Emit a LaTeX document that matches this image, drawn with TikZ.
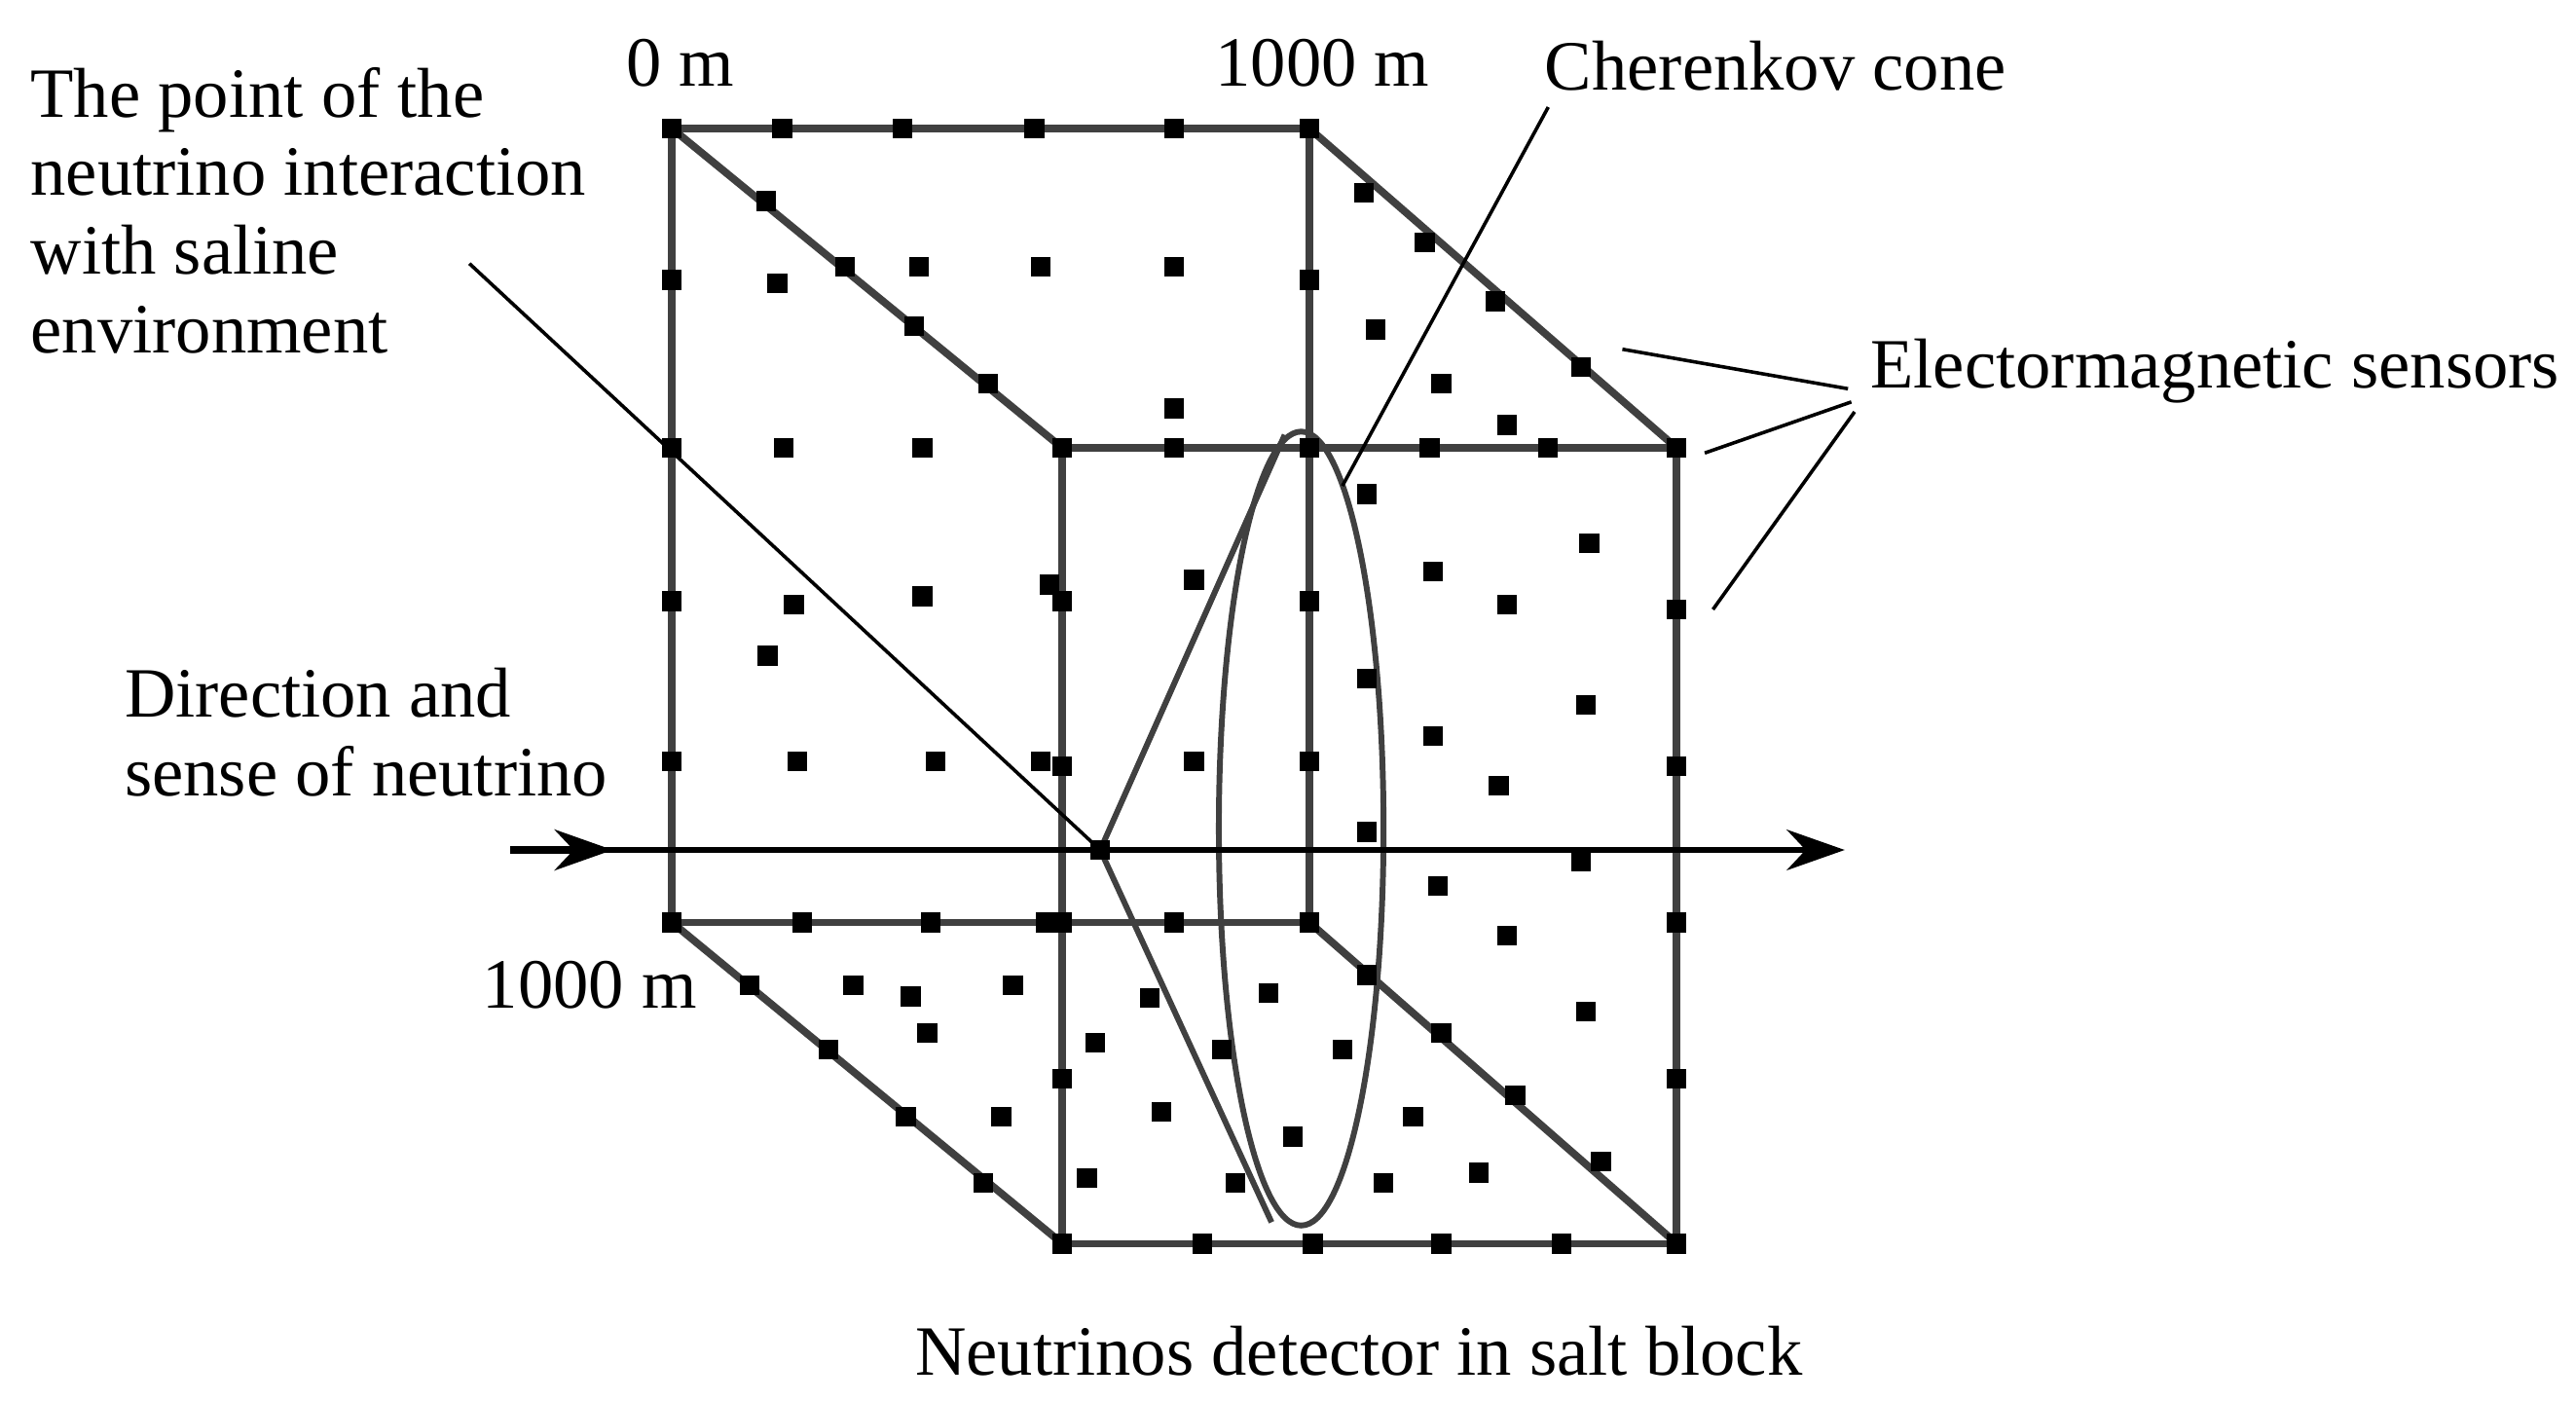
\documentclass[tikz,border=0pt]{standalone}
\usepackage{fontspec}
\setmainfont{Liberation Serif}
\usetikzlibrary{arrows.meta}
\begin{document}
\begin{tikzpicture}[x=0.01cm,y=-0.01cm,
  edge/.style={line width=1.3pt,color=black!75},
  thin/.style={line width=0.6pt},
  sq/.style={fill=black},
  lbl/.style={font=\fontsize{12.2}{13.6}\selectfont,inner sep=0pt}]
\useasboundingbox (0,0) rectangle (1564,850);
% cube corners
\coordinate (A) at (408,78); \coordinate (B) at (795,78);
\coordinate (C) at (408,560); \coordinate (D) at (795,560);
\coordinate (E) at (645,272); \coordinate (F) at (1018,272);
\coordinate (G) at (645,755); \coordinate (H) at (1018,755);
\draw[edge] (A)--(B)--(D)--(C)--cycle;
\draw[edge] (E)--(F)--(H)--(G)--cycle;
\draw[edge] (A)--(E) (B)--(F) (C)--(G) (D)--(H);
% ellipse and cone
\coordinate (P) at (668,516);
\draw[line width=1pt,color=black!75] (790,503) ellipse [x radius=50,y radius=241];
\coordinate (T) at (780,264); \coordinate (Bt) at (772,742);
\draw[line width=1pt,color=black!75] (T)--(P)--(Bt);
% neutrino direction
\coordinate (S) at (310,516); \coordinate (Ee) at (1120,516);
\draw[line width=1pt,-{Stealth[length=10pt,width=7pt]}] (S)--(Ee);
\draw[line width=1.4pt,-{Stealth[length=10pt,width=7pt]}] (S)--(372,516);
% sensors
\foreach \x/\y in {408/78,475/78,548/78,628/78,713/78,795/78,
 408/170,408/272,408/365,408/462,408/560,
 795/170,795/272,795/365,795/462,795/560,
 487/560,565/560,635/560,713/560,
 645/272,713/272,868/272,940/272,1018/272,
 645/365,645/465,645/560,645/655,645/755,
 1018/370,1018/465,1018/560,1018/655,1018/755,
 730/755,797/755,875/755,948/755,
 465/122,555/198,600/233,828/117,865/147,908/183,960/223,
 455/598,503/637,550/678,597/718,875/627,920/665,972/705,
 472/172,513/162,558/162,632/162,713/162,713/248,835/200,875/233,915/258,
 476/272,560/272,482/367,466/398,560/362,637/355,484/462,568/462,632/462,
 725/352,725/462,830/300,830/412,830/505,870/347,915/367,965/330,
 870/447,910/477,963/428,873/538,915/568,960/523,963/614,668/516,
 518/598,553/605,563/627,615/598,698/606,770/603,665/633,742/637,815/637,
 608/678,705/675,785/690,858/678,660/715,750/718,840/718,898/712,830/592}
  \fill[sq] (\x-6,\y-6) rectangle (\x+6,\y+6);
% pointers
\coordinate (p1) at (285,160);
\draw[thin] (p1)--(P);
\coordinate (c1) at (940,65); \coordinate (c2) at (815,295);
\draw[thin] (c1)--(c2);
\coordinate (e1) at (985,212); \coordinate (e2) at (1035,275); \coordinate (e3) at (1040,370);
\draw[thin] (e1)--(1122,236) (e2)--(1124,244) (e3)--(1126,250);
% labels
\node[lbl] (l0) at (413,38) {0 m};
\node[lbl] (l1) at (803,38) {1000 m};
\node[lbl] (l2) at (1078,40) {Cherenkov cone};
\node[lbl,anchor=north west,align=left] (l3) at (18,40) {The point of the\\neutrino interaction\\with saline\\environment};
\node[lbl,anchor=west] (l4) at (1135,225) {Electormagnetic sensors};
\node[lbl,anchor=north west,align=left] (l5) at (75,405) {Direction and\\sense of neutrino};
\node[lbl] (l6) at (358,598) {1000 m};
\node[lbl] (l7) at (825,820) {Neutrinos detector in salt block};
\end{tikzpicture}
\end{document}
